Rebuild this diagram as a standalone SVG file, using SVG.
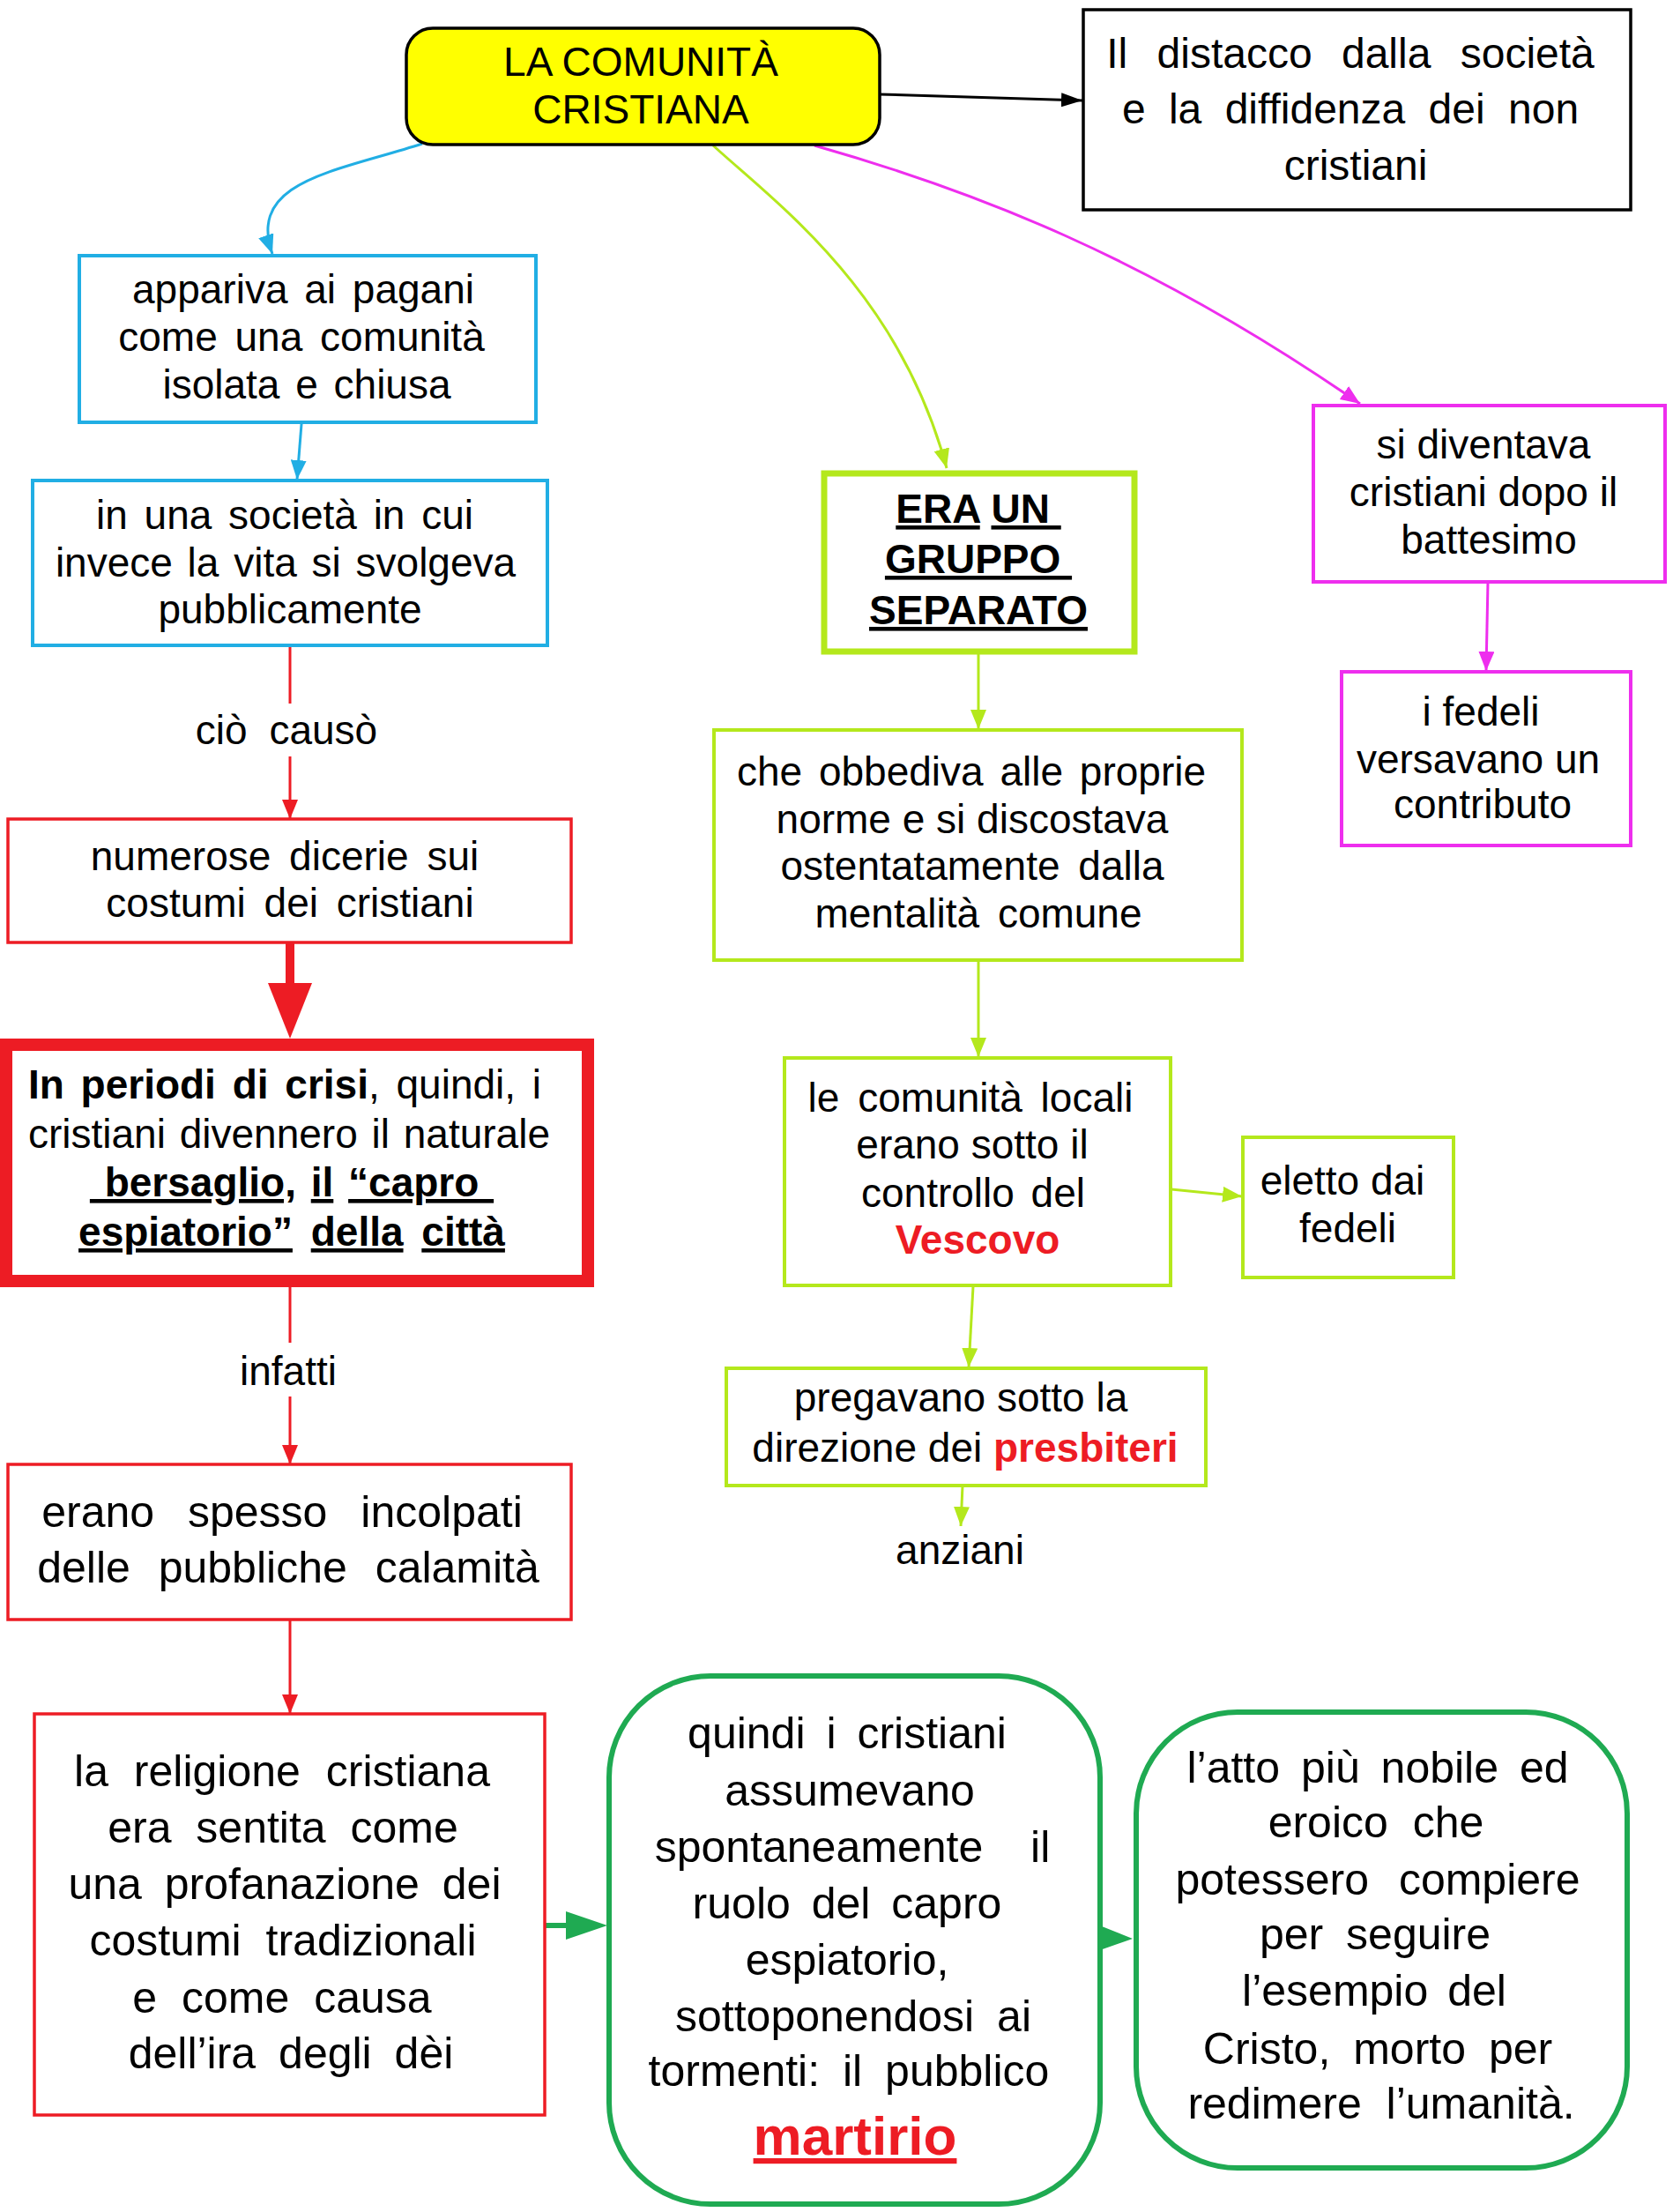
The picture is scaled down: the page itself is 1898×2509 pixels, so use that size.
<svg xmlns="http://www.w3.org/2000/svg" width="1898" height="2509" viewBox="0 0 1898 2509">
<style>
text{font-family:"Liberation Sans",Arial,"DejaVu Sans",sans-serif;font-size:46px;fill:#000;text-anchor:middle}
.b{font-weight:bold}
.big{font-size:50px}
.f48{font-size:48px}
.f62{font-size:62px}
.u{text-decoration:underline}
.red{fill:#ED1C24}
.bl{fill:none;stroke:#21AEE4;stroke-width:4}
.rd{fill:none;stroke:#ED1C24;stroke-width:3.5}
.lm{fill:none;stroke:#B4E81C;stroke-width:4}
.mg{fill:none;stroke:#EE2EEE;stroke-width:4}
.gr{fill:none;stroke:#1FAA52;stroke-width:6}
.c{fill:none;stroke-width:3}
</style>
<defs>
<marker id="aBlk" markerUnits="userSpaceOnUse" markerWidth="24" markerHeight="16" refX="24" refY="8" orient="auto"><path d="M0,0 L24,8 L0,16 z" fill="#000"/></marker>
<marker id="aBlu" markerUnits="userSpaceOnUse" markerWidth="22" markerHeight="18" refX="22" refY="9" orient="auto"><path d="M0,0 L22,9 L0,18 z" fill="#21AEE4"/></marker>
<marker id="aRed" markerUnits="userSpaceOnUse" markerWidth="22" markerHeight="18" refX="22" refY="9" orient="auto"><path d="M0,0 L22,9 L0,18 z" fill="#ED1C24"/></marker>
<marker id="aLim" markerUnits="userSpaceOnUse" markerWidth="22" markerHeight="18" refX="22" refY="9" orient="auto"><path d="M0,0 L22,9 L0,18 z" fill="#B4E81C"/></marker>
<marker id="aMag" markerUnits="userSpaceOnUse" markerWidth="22" markerHeight="18" refX="22" refY="9" orient="auto"><path d="M0,0 L22,9 L0,18 z" fill="#EE2EEE"/></marker>
</defs>

<g id="connectors">
<path class="c" d="M998,107 L1228,114" stroke="#000" stroke-width="2.5" marker-end="url(#aBlk)"/>
<path class="c" d="M479,163 C380,195 280,205 309,288" stroke="#21AEE4" marker-end="url(#aBlu)"/>
<path class="c" d="M342,481 L337,544" stroke="#21AEE4" marker-end="url(#aBlu)"/>
<path class="c" d="M809,165 C880,230 1020,330 1074,531" stroke="#B4E81C" marker-end="url(#aLim)"/>
<path class="c" d="M924,165 C1100,215 1300,290 1543,458" stroke="#EE2EEE" marker-end="url(#aMag)"/>
<path class="c" d="M1688,660 L1686,761" stroke="#EE2EEE" marker-end="url(#aMag)"/>
<path class="c" d="M1110,741 L1110,827" stroke="#B4E81C" marker-end="url(#aLim)"/>
<path class="c" d="M1110,1090 L1110,1199" stroke="#B4E81C" marker-end="url(#aLim)"/>
<path class="c" d="M1329,1349 L1409,1357" stroke="#B4E81C" marker-end="url(#aLim)"/>
<path class="c" d="M1104,1459 L1099,1551" stroke="#B4E81C" marker-end="url(#aLim)"/>
<path class="c" d="M1092,1685 L1090,1731" stroke="#B4E81C" marker-end="url(#aLim)"/>
<path class="c" d="M329,733 L329,798" stroke="#ED1C24"/>
<path class="c" d="M329,858 L329,929" stroke="#ED1C24" marker-end="url(#aRed)"/>
<rect x="324" y="1070" width="10" height="47" fill="#ED1C24"/>
<polygon points="304,1115 354,1115 329,1178" fill="#ED1C24"/>
<path class="c" d="M329,1460 L329,1523" stroke="#ED1C24"/>
<path class="c" d="M329,1584 L329,1661" stroke="#ED1C24" marker-end="url(#aRed)"/>
<path class="c" d="M329,1838 L329,1944" stroke="#ED1C24" marker-end="url(#aRed)"/>
<path d="M619,2184 L646,2184" stroke="#1FAA52" stroke-width="6" fill="none"/>
<polygon points="642,2168 689,2184 642,2200" fill="#1FAA52"/>
<polygon points="1245,2183 1285,2199 1245,2213" fill="#1FAA52"/>
</g>

<g id="n-comunita">
<rect x="461" y="32" width="537" height="132" rx="30" fill="#FFFF00" stroke="#000" stroke-width="3.5"/>
<text x="727" y="86">LA COMUNITÀ</text>
<text x="727" y="140">CRISTIANA</text>
</g>

<g id="n-distacco">
<rect x="1229" y="11" width="621" height="227" fill="#fff" stroke="#000" stroke-width="3.5"/>
<text class="f48" x="1532" y="77" word-spacing="20">Il distacco dalla società</text>
<text class="f48" x="1532" y="140" word-spacing="13">e la diffidenza dei non</text>
<text class="f48" x="1538" y="204">cristiani</text>
</g>

<g id="n-appariva">
<rect class="bl" x="90" y="290" width="518" height="189"/>
<text x="344" y="344" word-spacing="6">appariva ai pagani</text>
<text x="342" y="398" word-spacing="7">come una comunità</text>
<text x="348" y="452" word-spacing="5">isolata e chiusa</text>
</g>

<g id="n-societa">
<rect class="bl" x="37" y="545" width="584" height="187"/>
<text x="323" y="600" word-spacing="6">in una società in cui</text>
<text x="324" y="654" word-spacing="4">invece la vita si svolgeva</text>
<text x="329" y="707">pubblicamente</text>
</g>

<g id="l-cio">
<text x="325" y="844" word-spacing="12">ciò causò</text>
</g>

<g id="n-dicerie">
<rect class="rd" x="9" y="929" width="639" height="140"/>
<text x="323" y="987" word-spacing="8">numerose dicerie sui</text>
<text x="329" y="1040" word-spacing="8">costumi dei cristiani</text>
</g>

<g id="n-crisi">
<rect x="7" y="1185" width="660" height="268" fill="none" stroke="#ED1C24" stroke-width="14"/>
<text x="323" y="1246" word-spacing="6"><tspan class="b">In periodi di crisi</tspan>, quindi, i</text>
<text x="328" y="1302" word-spacing="3">cristiani divennero il naturale</text>
<text x="331" y="1357" class="b" word-spacing="4"><tspan class="u">&#160;bersaglio,</tspan> <tspan class="u">il</tspan> <tspan class="u">“capro&#160;</tspan></text>
<text x="331" y="1413" class="b" word-spacing="8"><tspan class="u">espiatorio”</tspan> <tspan class="u">della</tspan> <tspan class="u">città</tspan></text>
</g>

<g id="l-infatti">
<text x="327" y="1571">infatti</text>
</g>

<g id="n-incolpati">
<rect class="rd" x="9" y="1661" width="639" height="176" stroke-width="4"/>
<text class="big" x="320" y="1732" word-spacing="24">erano spesso incolpati</text>
<text class="big" x="327" y="1795" word-spacing="18">delle pubbliche calamità</text>
</g>

<g id="n-religione">
<rect class="rd" x="39" y="1944" width="579" height="455"/>
<text class="big" x="320" y="2026" word-spacing="15">la religione cristiana</text>
<text class="big" x="321" y="2090" word-spacing="14">era sentita come</text>
<text class="big" x="323" y="2154" word-spacing="12">una profanazione dei</text>
<text class="big" x="321" y="2218" word-spacing="14">costumi tradizionali</text>
<text class="big" x="320" y="2283" word-spacing="14">e come causa</text>
<text class="big" x="330" y="2346" word-spacing="12">dell’ira degli dèi</text>
</g>

<g id="n-martirio">
<rect class="gr" x="691" y="1901" width="557" height="599" rx="115"/>
<text class="big" x="961" y="1983" word-spacing="10">quindi i cristiani</text>
<text class="big" x="964" y="2048">assumevano</text>
<text class="big" x="967" y="2112" word-spacing="40">spontaneamente il</text>
<text class="big" x="961" y="2176" word-spacing="10">ruolo del capro</text>
<text class="big" x="961" y="2240">espiatorio,</text>
<text class="big" x="968" y="2304" word-spacing="12">sottoponendosi ai</text>
<text class="big" x="963" y="2366" word-spacing="12">tormenti: il pubblico</text>
<text x="970" y="2444" class="f62 b u red">martirio</text>
</g>

<g id="n-atto">
<rect class="gr" x="1289" y="1942" width="557" height="517" rx="115"/>
<text class="big" x="1563" y="2022" word-spacing="10">l’atto più nobile ed</text>
<text class="big" x="1561" y="2084" word-spacing="14">eroico che</text>
<text class="big" x="1563" y="2149" word-spacing="20">potessero compiere</text>
<text class="big" x="1560" y="2211" word-spacing="12">per seguire</text>
<text class="big" x="1559" y="2275" word-spacing="8">l’esempio del</text>
<text class="big" x="1563" y="2341" word-spacing="12">Cristo, morto per</text>
<text class="big" x="1567" y="2403" word-spacing="14">redimere l’umanità.</text>
</g>

<g id="n-separato">
<rect x="935" y="537" width="352" height="202" fill="none" stroke="#B4E81C" stroke-width="7"/>
<text class="b" x="1110" y="593"><tspan class="u">ERA</tspan> <tspan class="u">UN&#160;</tspan></text>
<text class="b u" x="1110" y="650">GRUPPO&#160;</text>
<text class="b u" x="1110" y="708">SEPARATO</text>
</g>

<g id="n-obbediva">
<rect class="lm" x="810" y="828" width="599" height="261"/>
<text x="1102" y="891" word-spacing="6">che obbediva alle proprie</text>
<text x="1103" y="945">norme e si discostava</text>
<text x="1103" y="998" word-spacing="8">ostentatamente dalla</text>
<text x="1110" y="1052" word-spacing="8">mentalità comune</text>
</g>

<g id="n-vescovo">
<rect class="lm" x="890" y="1200" width="438" height="258"/>
<text x="1101" y="1261" word-spacing="8">le comunità locali</text>
<text x="1103" y="1314">erano sotto il</text>
<text x="1104" y="1369" word-spacing="6">controllo del</text>
<text class="b red" x="1109" y="1422">Vescovo</text>
</g>

<g id="n-eletto">
<rect class="lm" x="1410" y="1290" width="239" height="159"/>
<text x="1523" y="1355">eletto dai</text>
<text x="1529" y="1409">fedeli</text>
</g>

<g id="n-presbiteri">
<rect class="lm" x="824" y="1552" width="544" height="133"/>
<text x="1090" y="1601">pregavano sotto la</text>
<text x="1095" y="1658">direzione dei <tspan class="b red">presbiteri</tspan></text>
</g>

<g id="l-anziani">
<text x="1089" y="1774">anziani</text>
</g>

<g id="n-battesimo">
<rect class="mg" x="1490" y="460" width="399" height="200"/>
<text x="1683" y="520">si diventava</text>
<text x="1683" y="574">cristiani dopo il</text>
<text x="1689" y="628">battesimo</text>
</g>

<g id="n-contributo">
<rect class="mg" x="1522" y="762" width="328" height="197"/>
<text x="1680" y="823">i fedeli</text>
<text x="1677" y="877">versavano un</text>
<text x="1682" y="928">contributo</text>
</g>
</svg>
